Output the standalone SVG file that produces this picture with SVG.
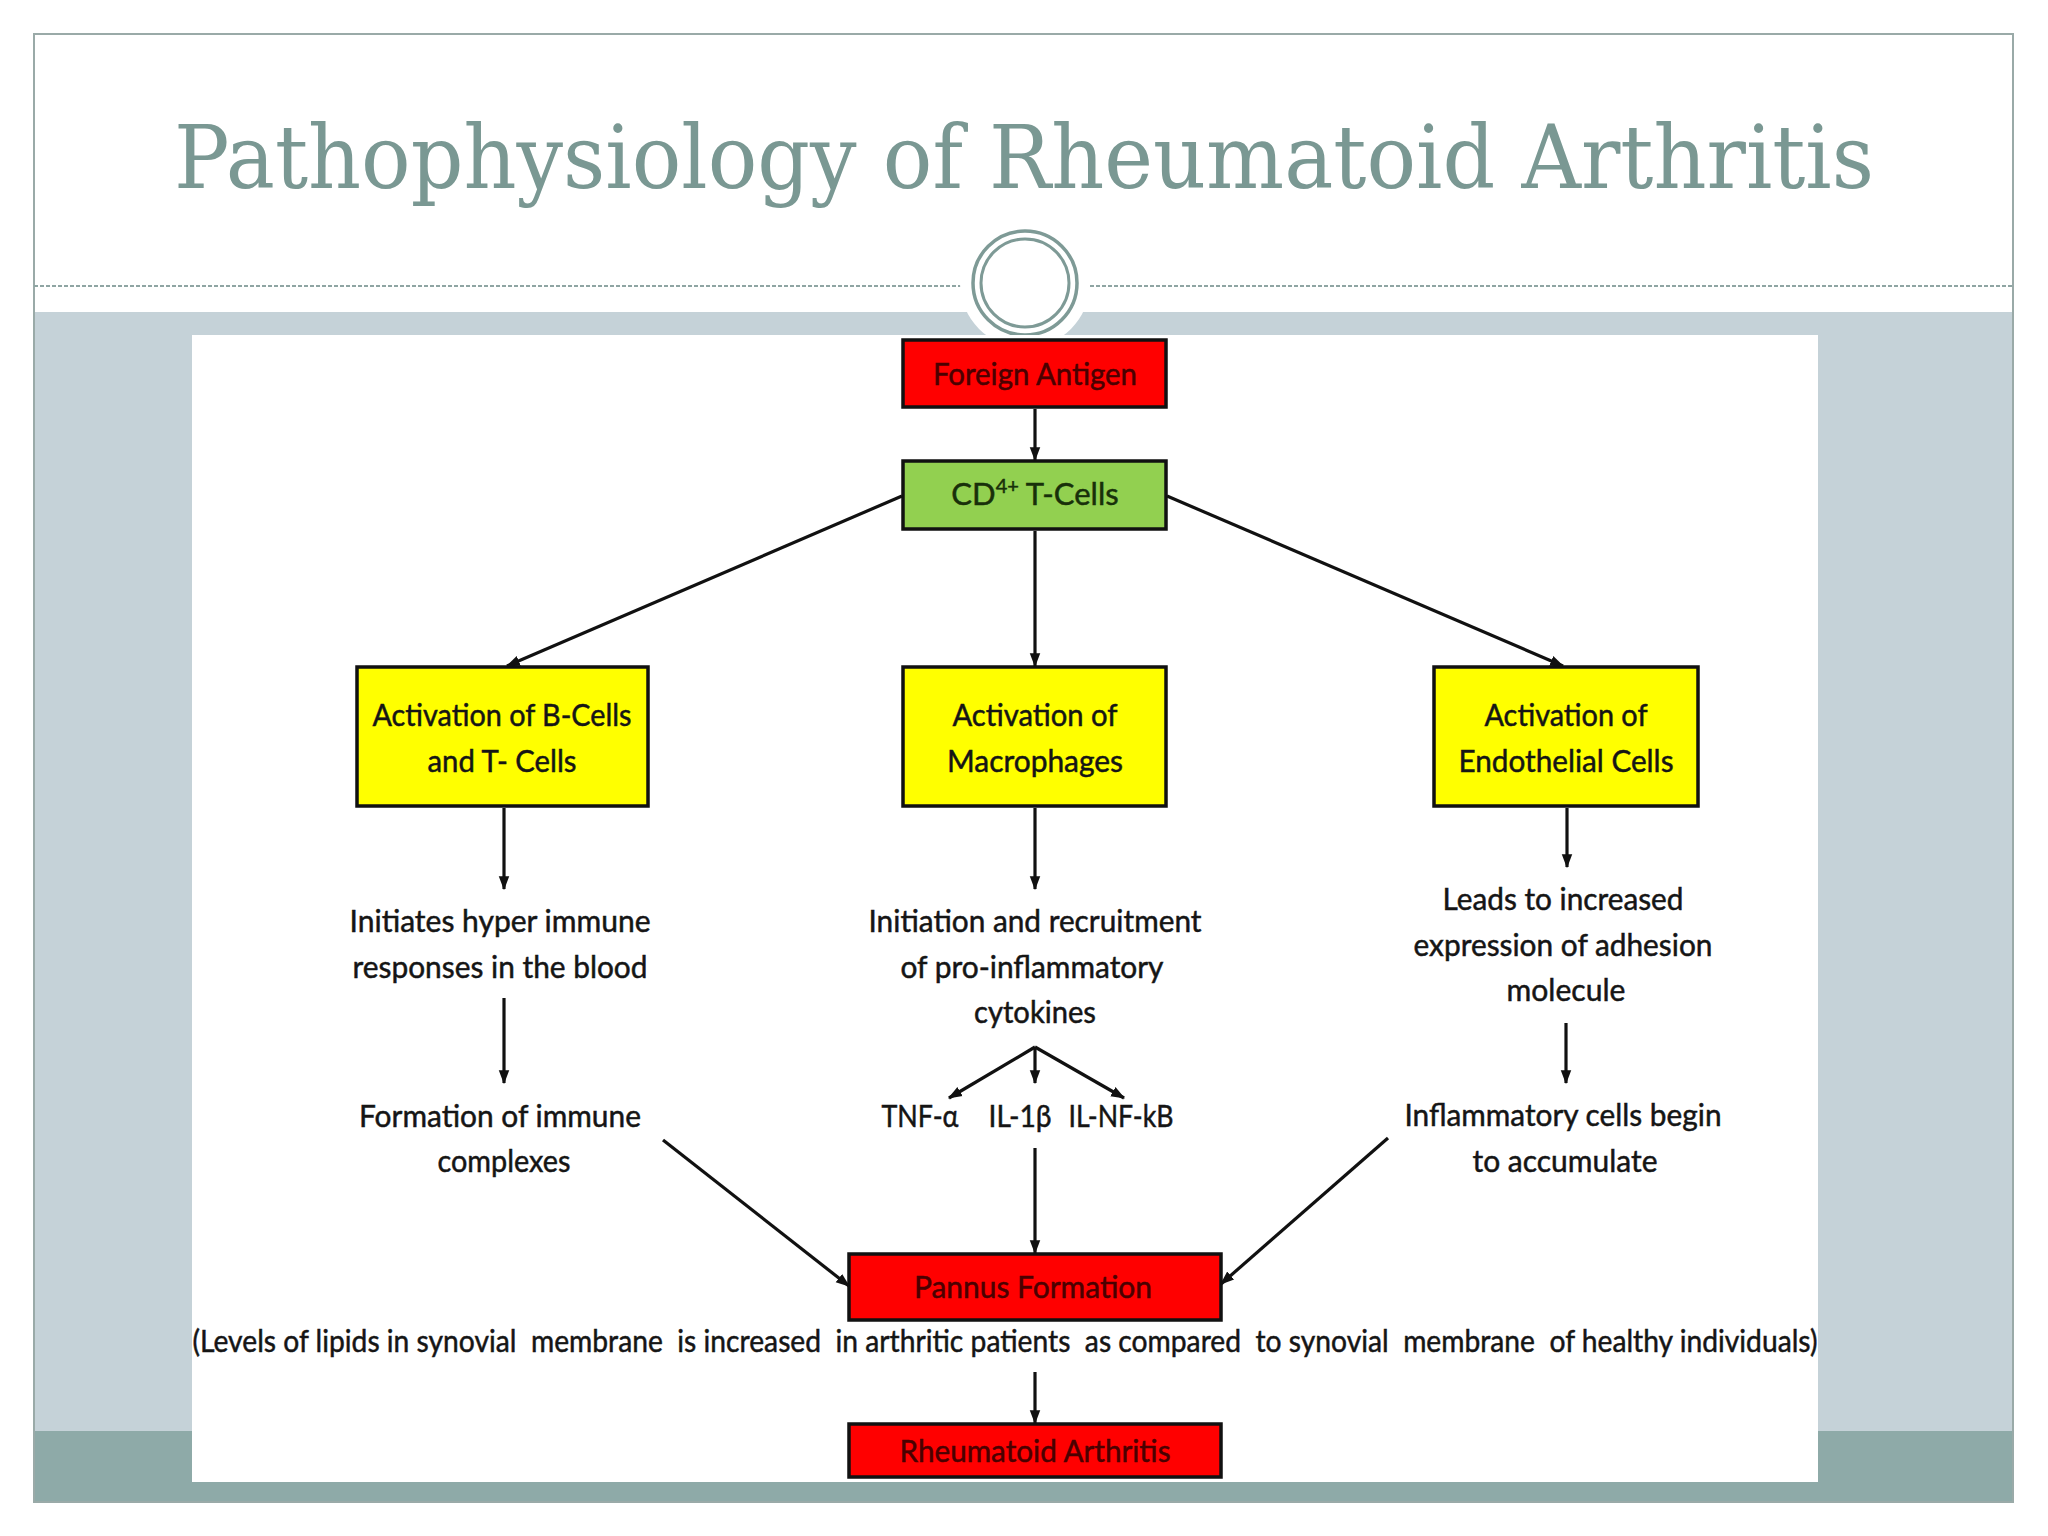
<svg xmlns="http://www.w3.org/2000/svg" width="2048" height="1536" viewBox="0 0 2048 1536">
<defs>
<marker id="ah" markerUnits="userSpaceOnUse" markerWidth="14" markerHeight="14" viewBox="0 0 12 12" refX="11" refY="6" orient="auto">
<path d="M0,1.5 L12,6 L0,10.5 z" fill="#111"/>
</marker>
</defs>
<style>
.box{stroke:#111;stroke-width:3.5}
.red{fill:#ff0000}
.green{fill:#92d050}
.yellow{fill:#ffff00}
.t{font-family:Lato,"Open Sans","Liberation Sans",sans-serif;font-size:31px;text-anchor:middle;fill:#151515;stroke:#151515;stroke-width:0.5}
.tr{fill:#4a0000;stroke:#4a0000}
.tg{fill:#18300a;stroke:#18300a}
.conn line{stroke:#111;stroke-width:3.2;marker-end:url(#ah)}
</style>
<rect x="0" y="0" width="2048" height="1536" fill="#ffffff"/>
<!-- slide frame -->
<rect x="34" y="312" width="1979" height="1119" fill="#c5d2d8"/>
<rect x="34" y="1431" width="1979" height="71" fill="#8eaaa8"/>
<rect x="34" y="34" width="1979" height="1468" fill="none" stroke="#9aaaa8" stroke-width="2"/>
<line x1="34" y1="286" x2="2013" y2="286" stroke="#8fa5a3" stroke-width="2" stroke-dasharray="4 2"/>
<circle cx="1025" cy="283" r="65" fill="#ffffff"/>
<circle cx="1025" cy="283" r="52" fill="none" stroke="#7e9a96" stroke-width="3.5"/>
<circle cx="1025" cy="283" r="44" fill="none" stroke="#7e9a96" stroke-width="3"/>
<text x="1024" y="188" font-family="DejaVu Serif,Georgia,serif" font-size="88" fill="#7a9893" text-anchor="middle" textLength="1700" lengthAdjust="spacingAndGlyphs">Pathophysiology of Rheumatoid Arthritis</text>
<!-- diagram canvas -->
<rect x="192" y="335" width="1626" height="1147" fill="#ffffff"/>

<g id="foreign-antigen">
<rect class="box red" x="903" y="340" width="263" height="67"/>
<text class="t tr" x="1035" y="385" textLength="204" lengthAdjust="spacingAndGlyphs">Foreign Antigen</text>
</g>
<g id="cd4-t-cells">
<rect class="box green" x="903" y="461" width="263" height="68"/>
<text class="t tg" x="1035" y="505">CD<tspan font-size="20" dy="-12">4+</tspan><tspan dy="12"> T-Cells</tspan></text>
</g>
<g id="b-cells">
<rect class="box yellow" x="357" y="667" width="291" height="139"/>
<text class="t" x="502" y="726" textLength="259" lengthAdjust="spacingAndGlyphs">Activation of B-Cells</text>
<text class="t" x="502" y="772" textLength="149" lengthAdjust="spacingAndGlyphs">and T- Cells</text>
</g>
<g id="macrophages">
<rect class="box yellow" x="903" y="667" width="263" height="139"/>
<text class="t" x="1035" y="726" textLength="165" lengthAdjust="spacingAndGlyphs">Activation of</text>
<text class="t" x="1035" y="772" textLength="176" lengthAdjust="spacingAndGlyphs">Macrophages</text>
</g>
<g id="endothelial">
<rect class="box yellow" x="1434" y="667" width="264" height="139"/>
<text class="t" x="1566" y="726" textLength="163" lengthAdjust="spacingAndGlyphs">Activation of</text>
<text class="t" x="1566" y="772" textLength="215" lengthAdjust="spacingAndGlyphs">Endothelial Cells</text>
</g>
<g id="hyper-immune">
<text class="t" x="500" y="932" textLength="301" lengthAdjust="spacingAndGlyphs">Initiates hyper immune</text>
<text class="t" x="500" y="978" textLength="295" lengthAdjust="spacingAndGlyphs">responses in the blood</text>
</g>
<g id="immune-complexes">
<text class="t" x="500" y="1127" textLength="282" lengthAdjust="spacingAndGlyphs">Formation of immune</text>
<text class="t" x="504" y="1172" textLength="133" lengthAdjust="spacingAndGlyphs">complexes</text>
</g>
<g id="cytokines">
<text class="t" x="1035" y="932" textLength="333" lengthAdjust="spacingAndGlyphs">Initiation and recruitment</text>
<text class="t" x="1032" y="978" textLength="263" lengthAdjust="spacingAndGlyphs">of pro-inflammatory</text>
<text class="t" x="1035" y="1023" textLength="122" lengthAdjust="spacingAndGlyphs">cytokines</text>
</g>
<g id="tnf"><text class="t" x="920" y="1127" textLength="77" lengthAdjust="spacingAndGlyphs">TNF-α</text></g>
<g id="il1b"><text class="t" x="1020" y="1127" textLength="63" lengthAdjust="spacingAndGlyphs">IL-1β</text></g>
<g id="ilnfkb"><text class="t" x="1121" y="1127" textLength="105" lengthAdjust="spacingAndGlyphs">IL-NF-kB</text></g>
<g id="adhesion">
<text class="t" x="1563" y="910" textLength="241" lengthAdjust="spacingAndGlyphs">Leads to increased</text>
<text class="t" x="1563" y="956" textLength="299" lengthAdjust="spacingAndGlyphs">expression of adhesion</text>
<text class="t" x="1566" y="1001" textLength="119" lengthAdjust="spacingAndGlyphs">molecule</text>
</g>
<g id="inflammatory-cells">
<text class="t" x="1563" y="1126" textLength="317" lengthAdjust="spacingAndGlyphs">Inflammatory cells begin</text>
<text class="t" x="1565" y="1172" textLength="185" lengthAdjust="spacingAndGlyphs">to accumulate</text>
</g>
<g id="pannus">
<rect class="box red" x="849" y="1254" width="372" height="66"/>
<text class="t tr" x="1033" y="1298" textLength="238" lengthAdjust="spacingAndGlyphs">Pannus Formation</text>
</g>
<g id="lipids-note">
<text class="t" x="1005" y="1352" textLength="1625" lengthAdjust="spacingAndGlyphs" style="white-space:pre">(Levels of lipids in synovial  membrane  is increased  in arthritic patients  as compared  to synovial  membrane  of healthy individuals)</text>
</g>
<g id="rheumatoid-arthritis">
<rect class="box red" x="849" y="1424" width="372" height="53"/>
<text class="t tr" x="1035" y="1462" textLength="271" lengthAdjust="spacingAndGlyphs">Rheumatoid Arthritis</text>
</g>

<g id="connectors" class="conn">
<line x1="1035" y1="409" x2="1035" y2="460"/>
<line x1="902" y1="496" x2="507" y2="666"/>
<line x1="1035" y1="531" x2="1035" y2="666"/>
<line x1="1167" y1="496" x2="1563" y2="666"/>
<line x1="504" y1="808" x2="504" y2="889"/>
<line x1="1035" y1="808" x2="1035" y2="889"/>
<line x1="1567" y1="808" x2="1567" y2="867"/>
<line x1="504" y1="998" x2="504" y2="1083"/>
<line x1="1035" y1="1047" x2="949" y2="1098"/>
<line x1="1035" y1="1047" x2="1035" y2="1083"/>
<line x1="1035" y1="1047" x2="1124" y2="1098"/>
<line x1="1566" y1="1023" x2="1566" y2="1083"/>
<line x1="663" y1="1140" x2="849" y2="1286"/>
<line x1="1035" y1="1148" x2="1035" y2="1253"/>
<line x1="1388" y1="1138" x2="1221" y2="1284"/>
<line x1="1035" y1="1372" x2="1035" y2="1423"/>
</g>
</svg>
